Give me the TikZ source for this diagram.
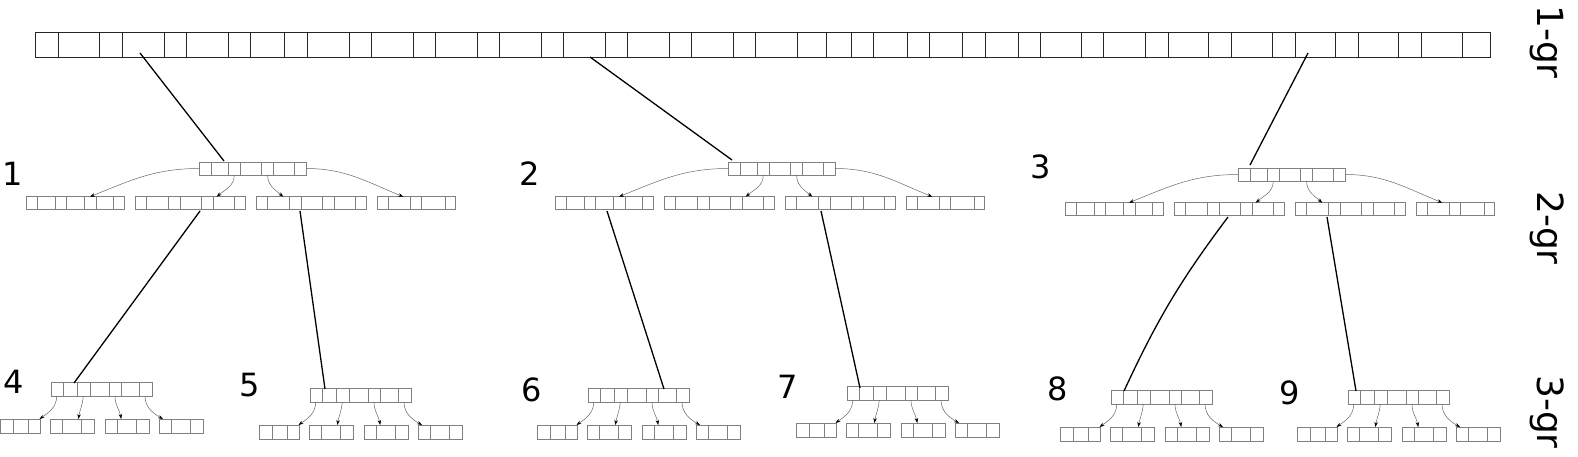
\documentclass[tikz,border=0pt]{standalone}
\usepackage{fontspec}
\setmainfont{DejaVu Sans}
\usetikzlibrary{arrows.meta}
\begin{document}
\begin{tikzpicture}[x=1pt,y=-1pt,
  gcell/.style={draw=black!50,line width=0.6pt,inner sep=0pt,outer sep=0pt,rectangle,anchor=north west},
  gline/.style={draw=black!50,line width=0.6pt},
  barcell/.style={draw=black!85,line width=0.7pt,inner sep=0pt,outer sep=0pt,rectangle,anchor=north west},
  barline/.style={draw=black!85,line width=0.7pt},
  arr/.style={draw=black!60,line width=0.5pt,-{Stealth[length=5pt,width=3.5pt,black]}},
  link/.style={draw=black,line width=1.3pt},
  num/.style={font=\fontsize{32}{32}\selectfont,inner sep=0pt},
  gr/.style={font=\fontsize{36}{36}\selectfont,inner sep=0pt,rotate=-90}]
\useasboundingbox (0,0) rectangle (1578,457);
% block: name, x, y, height, inner boundaries, total width, style prefix
\newcommand\myblk[7]{%
  \node[#7cell,minimum width=#6pt,minimum height=#4pt] (#1) at (#2,#3) {};
  \foreach \b in {#5} \draw[#7line] ([xshift=\b pt]#1.north west) -- ([xshift=\b pt]#1.south west);}
\newcommand\lvtwo[3]{%
  \myblk{#1p}{199.3+#2}{162+#3}{13}{11.7,29,40.7,62.4,74,95.4}{106.7}{g}
  \myblk{#1a}{26.7+#2}{196.7+#3}{13}{11,28.3,40,57.6,69.3,86.6}{97.6}{g}
  \myblk{#1b}{135.7+#2}{196.7+#3}{13}{11,32.6,44.3,66,77.6,98.6}{110}{g}
  \myblk{#1c}{256.7+#2}{196.7+#3}{13}{11,32.6,44.3,66,77.6,98.6}{110}{g}
  \myblk{#1d}{377.7+#2}{196.7+#3}{13}{10.6,32.3,44,67.3}{77.3}{g}
  \draw[arr] (#1p.west) to[out=180,in=22] ([xshift=63.3pt]#1a.north west);
  \draw[arr] ([xshift=35pt]#1p.south west) to[out=-90,in=40] ([xshift=81pt]#1b.north west);
  \draw[arr] ([xshift=68.3pt]#1p.south west) to[out=-90,in=140] ([xshift=26.6pt]#1c.north west);
  \draw[arr] (#1p.east) to[out=0,in=158] ([xshift=25.6pt]#1d.north west);}
\newcommand\lvthree[3]{%
  \myblk{#1p}{51.7+#2}{382.3+#3}{13.7}{11.6,25.6,38.3,57.3,69.3,87.6}{100.3}{g}
  \myblk{#1a}{0.5+#2}{419+#3}{14.7}{12.7,27.3}{39.3}{g}
  \myblk{#1b}{50.7+#2}{419+#3}{14.7}{12,31}{43.6}{g}
  \myblk{#1c}{105.2+#2}{419+#3}{14.7}{12,31}{43.6}{g}
  \myblk{#1d}{159.7+#2}{419+#3}{14.7}{12,31}{43.6}{g}
  \draw[arr] ([xshift=5pt]#1p.south west) to[out=-90,in=35] ([xshift=39pt]#1a.north west);
  \draw[arr] ([xshift=31.6pt]#1p.south west) to[out=-95,in=80] ([xshift=27.6pt]#1b.north west);
  \draw[arr] ([xshift=63.3pt]#1p.south west) to[out=-90,in=100] ([xshift=16pt]#1c.north west);
  \draw[arr] ([xshift=93.3pt]#1p.south west) to[out=-90,in=150] ([xshift=3.3pt]#1d.north west);}
% top bar
\myblk{bar}{35}{32}{25}{23,64,87,129,151,193,215,249,272,314,336,378,400,442,464,506,528,570,592,634,656,698,720,762,791,816,838,872,894,927,950,983,1005,1046,1068,1110,1133,1173,1196,1237,1260,1300,1323,1363,1386,1427}{1455}{bar}
% level 2
\lvtwo{g1}{0}{0}
\lvtwo{g2}{529}{0}
\lvtwo{g3}{1039}{6}
% level 3
\lvthree{g4}{0}{0}
\lvthree{g5}{259}{6}
\lvthree{g6}{537}{6}
\lvthree{g7}{796}{4}
\lvthree{g8}{1060}{8}
\lvthree{g9}{1297}{8}
% link end points
\coordinate (t1) at (140,53);
\coordinate (t2) at (590,57);
\coordinate (t3) at (1308,53);
\coordinate (e1) at (224,161);
\coordinate (e2) at (732,160);
\coordinate (e3) at (1250,165);
\coordinate (s4) at (200,211);
\coordinate (s5) at (300,211);
\coordinate (s6) at (607,211);
\coordinate (s7) at (821,211);
\coordinate (s8) at (1228,217);
\coordinate (s9) at (1327,217);
\coordinate (d4) at (74,383);
\coordinate (d5) at (325,389);
\coordinate (d6) at (664,389);
\coordinate (d7) at (860,388);
\coordinate (d8) at (1124,391);
\coordinate (d9) at (1356,391);
\draw[link] (t1) -- (e1);
\draw[link] (t2) -- (e2);
\draw[link] (t3) -- (e3);
\draw[link] (s4) -- (d4);
\draw[link] (s5) -- (d5);
\draw[link] (s6) -- (d6);
\draw[link] (s7) -- (d7);
\draw[link] (s8) to[bend right=6] (d8);
\draw[link] (s9) -- (d9);
% labels
\node[num] (n1) at (13,174) {1};
\node[num] (n2) at (530,174) {2};
\node[num] (n3) at (1041,167) {3};
\node[num] (n4) at (14,382) {4};
\node[num] (n5) at (250,385) {5};
\node[num] (n6) at (532,390) {6};
\node[num] (n7) at (788,387) {7};
\node[num] (n8) at (1058,389) {8};
\node[num] (n9) at (1290,393) {9};
\node[gr] (l1) at (1547,42) {1-gr};
\node[gr] (l2) at (1547,228) {2-gr};
\node[gr] (l3) at (1547,412) {3-gr};
\end{tikzpicture}
\end{document}
